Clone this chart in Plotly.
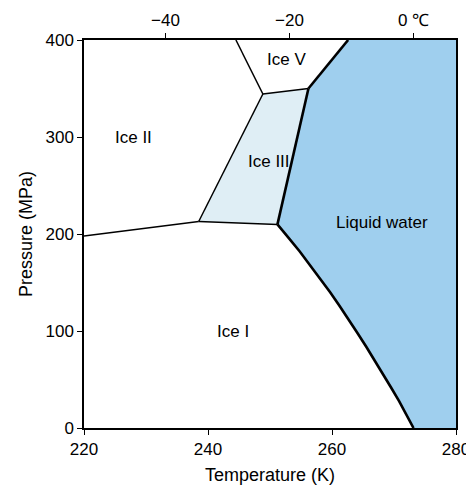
import plotly.graph_objects as go

# Data (K, MPa)
melt_T = [273.15, 272.0, 270.8, 269.5, 268.2, 266.9, 265.5, 264.1, 262.7, 261.2, 259.7, 258.1, 256.5, 254.8, 253.0, 251.2]
melt_P = [0, 14, 28, 42, 56, 70, 84, 98, 112, 126, 140, 154, 168, 182, 196, 209.9]
iii_l_T = [251.2, 256.2]; iii_l_P = [209.9, 350]
v_l_T = [256.2, 262.6]; v_l_P = [350, 400]
i_iii_T = [251.2, 238.5]; i_iii_P = [209.9, 212.9]
i_ii_T = [238.5, 220]; i_ii_P = [212.9, 198]
ii_iii_T = [238.5, 248.85]; ii_iii_P = [212.9, 344.3]
ii_v_T = [248.85, 244.5]; ii_v_P = [344.3, 400]
iii_v_T = [248.85, 256.2]; iii_v_P = [344.3, 350]
labels = ["Ice V", "Ice II", "Ice III", "Liquid water", "Ice I"]
label_T = [252.7, 228, 249.8, 268, 244]
label_P = [380, 300, 275, 212, 100]
c_ticks = [-40, -20, 0]
c_text = ["−40", "−20", "0 ℃"]

fig = go.Figure()
fig.add_trace(go.Scatter(x=melt_T + [256.2, 262.6, 280, 280], y=melt_P + [350, 400, 400, 0],
    fill="toself", fillcolor="#9fcfee", line=dict(width=0), mode="lines", hoverinfo="skip"))
fig.add_trace(go.Scatter(x=[251.2, 238.5, 248.85, 256.2], y=[209.9, 212.9, 344.3, 350],
    fill="toself", fillcolor="#dfeef5", line=dict(width=0), mode="lines", hoverinfo="skip"))
for T, P, w in [(melt_T, melt_P, 2.6), (iii_l_T, iii_l_P, 2.6), (v_l_T, v_l_P, 2.6),
                (i_iii_T, i_iii_P, 1.5), (i_ii_T, i_ii_P, 1.5), (ii_iii_T, ii_iii_P, 1.5),
                (ii_v_T, ii_v_P, 1.5), (iii_v_T, iii_v_P, 1.5)]:
    fig.add_trace(go.Scatter(x=T, y=P, mode="lines", line=dict(color="black", width=w)))
for t, x, y in zip(labels, label_T, label_P):
    fig.add_annotation(x=x, y=y, text=t, showarrow=False, font=dict(size=17, color="black"))
fig.add_trace(go.Scatter(x=[c + 273.15 for c in c_ticks], y=[400] * 3, xaxis="x2", mode="markers",
    marker=dict(opacity=0), hoverinfo="skip"))

ax = dict(showgrid=False, zeroline=False, showline=True, linecolor="black", linewidth=1.5,
          ticks="outside", ticklen=5, tickcolor="black", tickfont=dict(size=17, color="black"),
          automargin=False)
fig.update_layout(
    width=474, height=490, showlegend=False, plot_bgcolor="white", paper_bgcolor="white",
    font=dict(family="Liberation Sans, Arial", color="black"),
    margin=dict(l=76, r=26, t=32, b=70),
    xaxis=dict(range=[220, 280], dtick=20,
               title=dict(text="Temperature (K)", font=dict(size=18), standoff=10), **ax),
    yaxis=dict(range=[0, 400], dtick=100, mirror=True,
               title=dict(text="Pressure (MPa)", font=dict(size=18), standoff=8), **ax),
    xaxis2=dict(overlaying="x", side="top", range=[220, 280],
                tickvals=[c + 273.15 for c in c_ticks], ticktext=c_text, **ax),
)
fig.write_html("out.html")
